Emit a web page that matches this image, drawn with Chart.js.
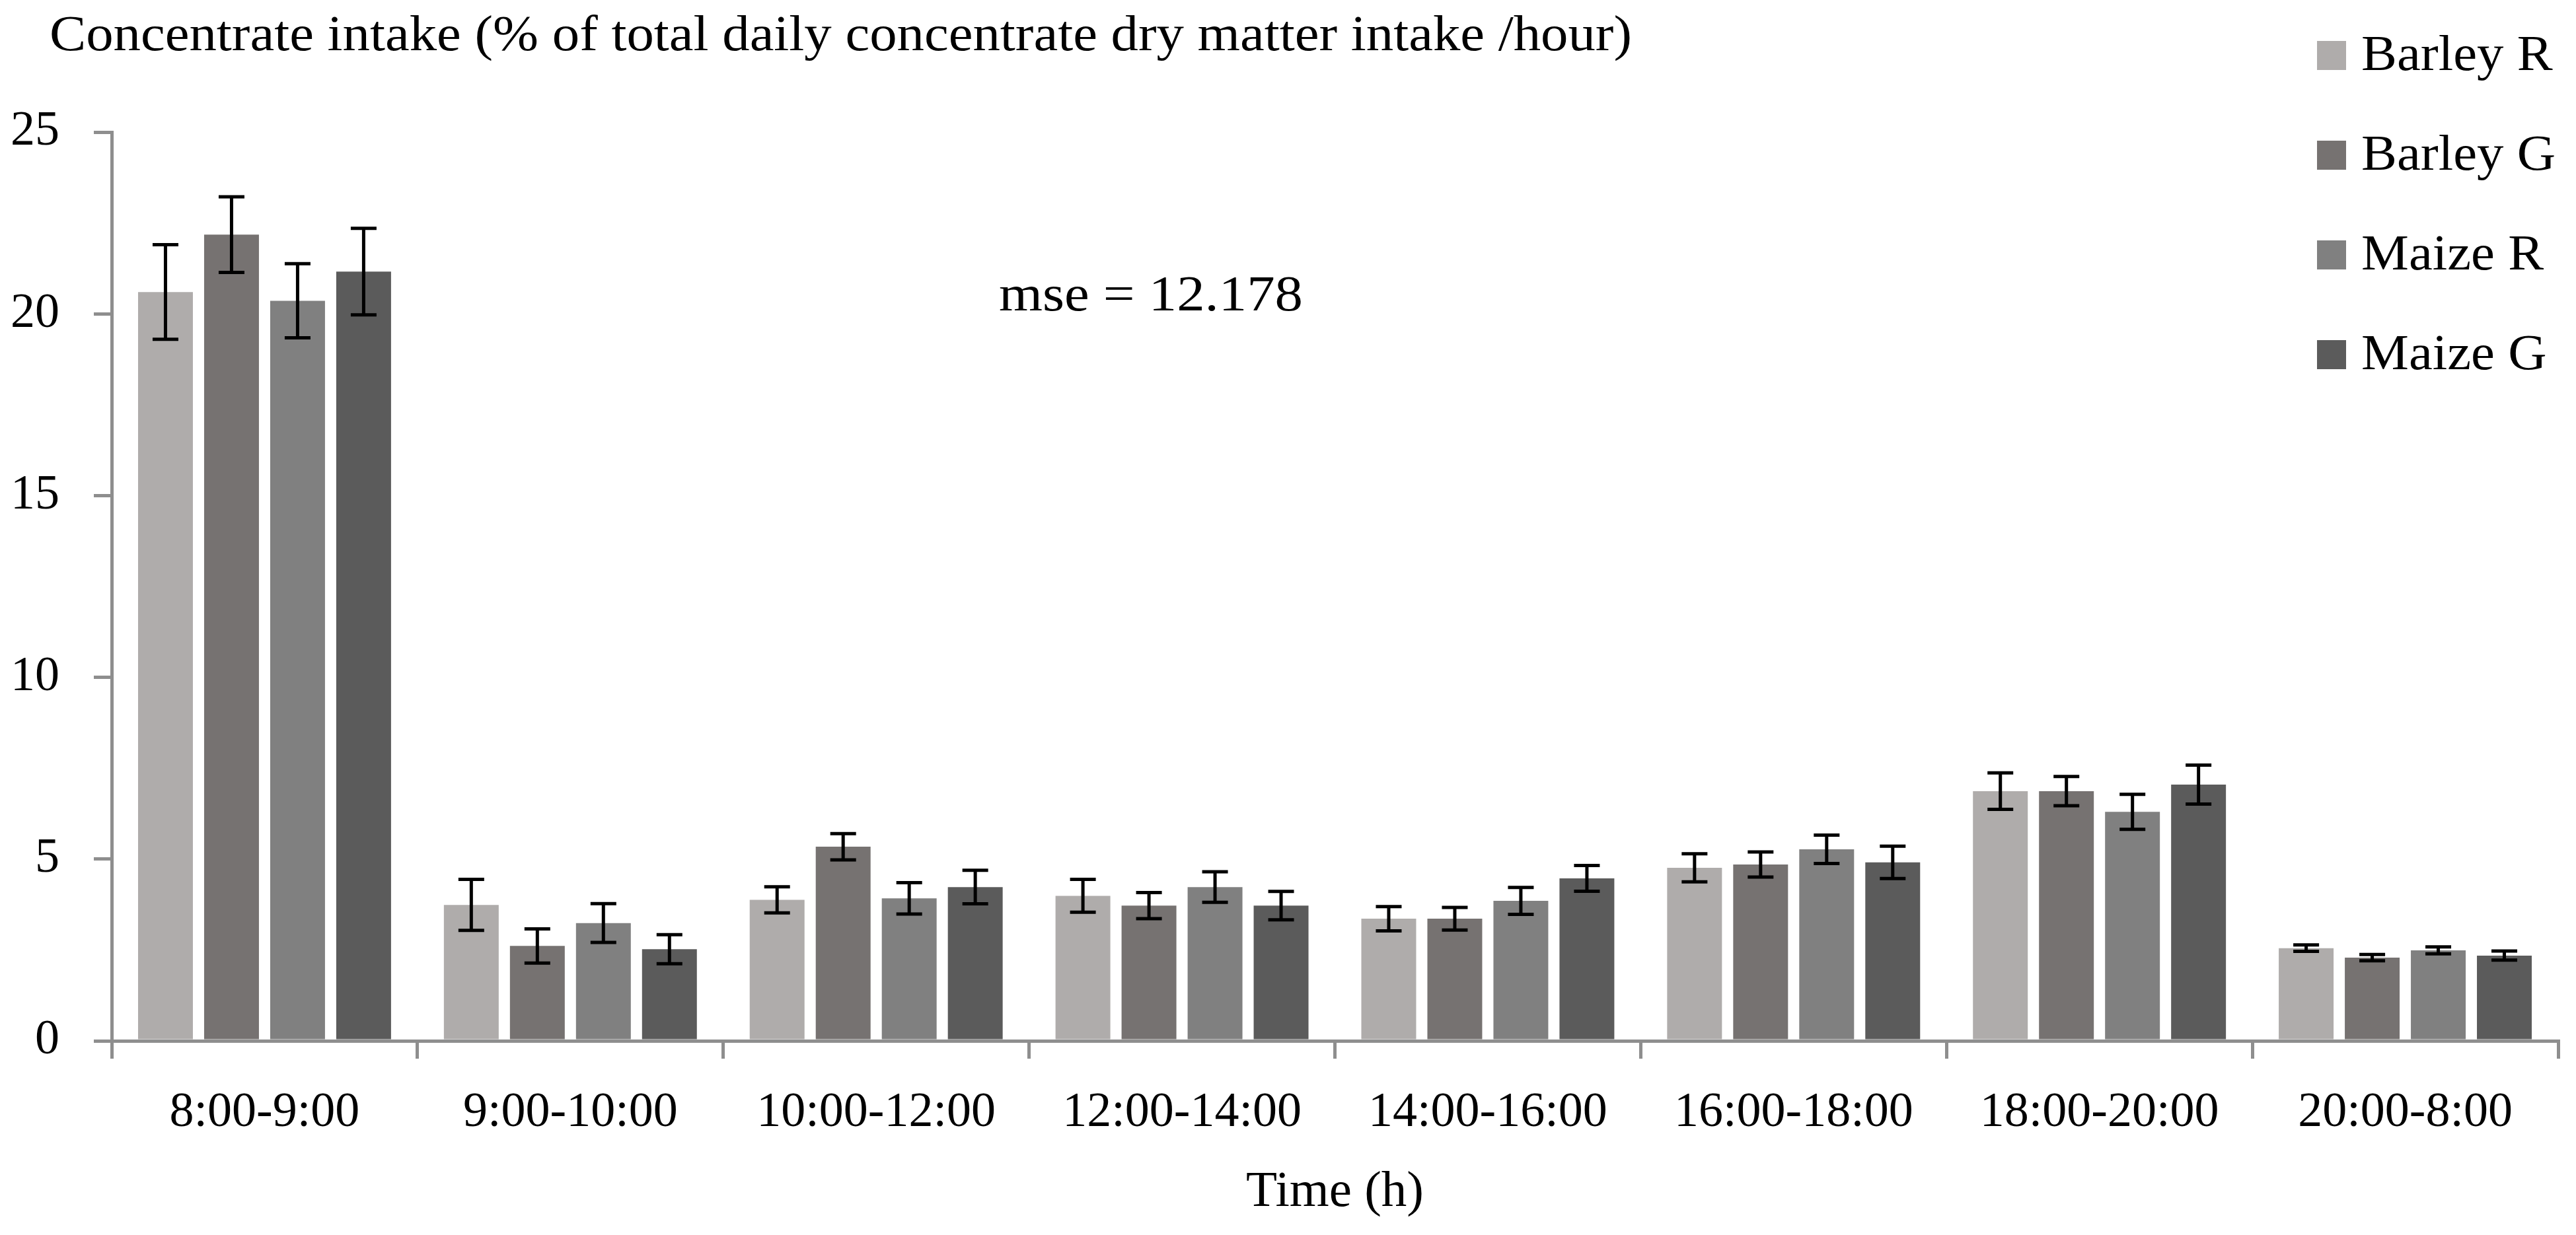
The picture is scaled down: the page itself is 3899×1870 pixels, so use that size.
<!DOCTYPE html>
<html>
<head>
<meta charset="utf-8">
<script src="https://cdn.jsdelivr.net/npm/chart.js@4.4.0/dist/chart.umd.min.js"></script>
<style>
  html, body { margin: 0; padding: 0; background: #fff; }
  #chart { display: block; }
</style>
</head>
<body>
<canvas id="chart" width="3899" height="1870"></canvas>
<script>
// dados
const categories = ['8:00-9:00', '9:00-10:00', '10:00-12:00', '12:00-14:00', '14:00-16:00', '16:00-18:00', '18:00-20:00', '20:00-8:00'];
const seriesNames = ['Barley R', 'Barley G', 'Maize R', 'Maize G'];
const seriesColors = ['#afacab', '#767271', '#808080', '#5b5b5b'];

const barleyR    = [20.6, 3.74, 3.88, 3.99, 3.36, 4.76, 6.87, 2.55];
const barleyRErr = [1.3, 0.70, 0.36, 0.45, 0.335, 0.385, 0.50, 0.087];
const barleyG    = [22.18, 2.61, 5.34, 3.72, 3.36, 4.85, 6.87, 2.29];
const barleyGErr = [1.04, 0.47, 0.36, 0.36, 0.31, 0.345, 0.40, 0.085];
const maizeR     = [20.36, 3.24, 3.92, 4.23, 3.85, 5.27, 6.30, 2.49];
const maizeRErr  = [1.02, 0.535, 0.43, 0.42, 0.37, 0.39, 0.48, 0.095];
const maizeG     = [21.16, 2.52, 4.23, 3.72, 4.47, 4.91, 7.05, 2.345];
const maizeGErr  = [1.19, 0.40, 0.46, 0.39, 0.355, 0.445, 0.535, 0.125];

const yTicks = [0, 5, 10, 15, 20, 25];
const yTitle = 'Concentrate intake (% of total daily concentrate dry matter intake /hour)';
const xTitle = 'Time (h)';
const mseText = 'mse = 12.178';

const seriesValues = [barleyR, barleyG, maizeR, maizeG];
const seriesErrors = [barleyRErr, barleyGErr, maizeRErr, maizeGErr];

const FONT = "'Liberation Serif', 'Times New Roman', serif";
const AXIS_GRAY = '#8e8e8e';

// escreve texto esticado até a largura desejada (a fonte original é mais larga)
function fitText(ctx, text, x, y, width) {
    const w = ctx.measureText(text).width;
    const sx = width / w;
    ctx.save();
    ctx.translate(x, y);
    ctx.scale(sx, 1);
    ctx.fillText(text, 0, 0);
    ctx.restore();
}

// barras de erro
const errorBarsPlugin = {
    id: 'errorBars',
    afterDatasetsDraw(chart) {
        const ctx = chart.ctx;
        const yScale = chart.scales.y;
        ctx.save();
        ctx.strokeStyle = '#000';
        ctx.lineWidth = 5;
        ctx.lineCap = 'butt';
        chart.data.datasets.forEach((ds, i) => {
            const meta = chart.getDatasetMeta(i);
            meta.data.forEach((bar, j) => {
                const v = ds.data[j];
                const e = ds.errors[j];
                const yTop = yScale.getPixelForValue(v + e);
                const yBot = yScale.getPixelForValue(v - e);
                const half = 19.5;
                ctx.beginPath();
                ctx.moveTo(bar.x, yTop);
                ctx.lineTo(bar.x, yBot);
                ctx.moveTo(bar.x - half, yTop);
                ctx.lineTo(bar.x + half, yTop);
                ctx.moveTo(bar.x - half, yBot);
                ctx.lineTo(bar.x + half, yBot);
                ctx.stroke();
            });
        });
        ctx.restore();
    }
};

// título do eixo y, legenda e texto mse
const annotationsPlugin = {
    id: 'annotations',
    afterDraw(chart) {
        const ctx = chart.ctx;
        ctx.save();
        ctx.fillStyle = '#000';
        ctx.font = '77px ' + FONT;
        ctx.textAlign = 'left';
        ctx.textBaseline = 'alphabetic';
        fitText(ctx, yTitle, 75, 76, 2395);
        fitText(ctx, mseText, 1512, 470, 460);

        const legendTop = 62;
        const legendStep = 151;
        chart.data.datasets.forEach((ds, i) => {
            const top = legendTop + i * legendStep;
            ctx.fillStyle = ds.backgroundColor;
            ctx.fillRect(3507, top, 44, 44);
            ctx.fillStyle = '#000';
            const w = ctx.measureText(ds.label).width * 1.05;
            fitText(ctx, ds.label, 3574, top + 44, w);
        });
        ctx.restore();
    }
};

const ctx = document.getElementById('chart').getContext('2d');
const chart = new Chart(ctx, {
    type: 'bar',
    data: {
        labels: categories,
        datasets: seriesNames.map((name, i) => ({
            label: name,
            data: seriesValues[i],
            errors: seriesErrors[i],
            backgroundColor: seriesColors[i],
            borderWidth: 0,
            categoryPercentage: 0.864,
            barPercentage: 0.83
        }))
    },
    options: {
        responsive: false,
        devicePixelRatio: 1,
        animation: false,
        layout: { padding: { left: 0, right: 27, top: 200, bottom: 0 } },
        plugins: {
            legend: { display: false },
            title: { display: false },
            tooltip: { enabled: false }
        },
        scales: {
            x: {
                offset: true,
                grid: { offset: true, drawOnChartArea: false, drawTicks: true, tickLength: 27, color: AXIS_GRAY, lineWidth: 5 },
                border: { color: AXIS_GRAY, width: 5 },
                ticks: { color: '#000', font: { family: FONT, size: 74 }, padding: 38, maxRotation: 0, autoSkip: false },
                title: { display: true, text: xTitle, color: '#000', font: { family: FONT, size: 77 }, padding: { top: 0, bottom: 18 } },
                afterFit(scale) { scale.height = 294; }
            },
            y: {
                min: 0,
                max: 25,
                afterBuildTicks(scale) { scale.ticks = yTicks.map(v => ({ value: v })); },
                grid: { drawOnChartArea: false, drawTicks: true, tickLength: 27, color: AXIS_GRAY, lineWidth: 5 },
                border: { color: AXIS_GRAY, width: 5 },
                ticks: { color: '#000', font: { family: FONT, size: 74 }, padding: 52 },
                afterFit(scale) { scale.width = 169; }
            }
        }
    },
    plugins: [errorBarsPlugin, annotationsPlugin]
});
</script>
</body>
</html>
